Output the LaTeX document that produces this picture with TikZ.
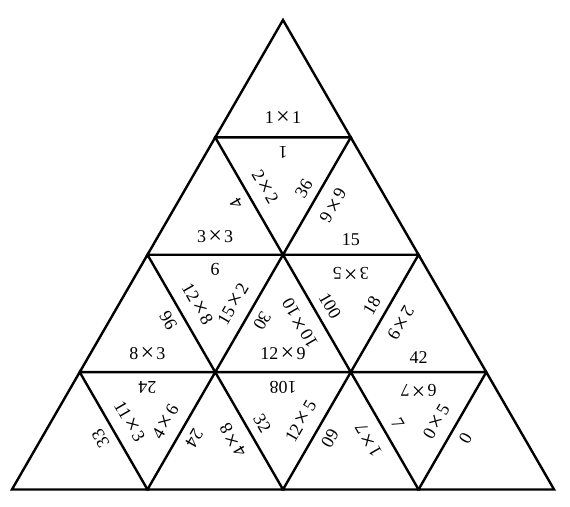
\documentclass[tikz,border=0pt]{standalone}
\usepackage{fontspec}
\setmainfont{Liberation Serif}
\usetikzlibrary{calc}
\newcommand\tms{\kern0.12em\raisebox{-0.07em}{\scalebox{1.35}{×}}\kern0.12em}
\newcommand\lbl[6]{\node[lab,rotate=#3] (#6) at ($(#1)!0.5!(#2)+({#3+90}:#4)$) {#5};}
\begin{document}
\begin{tikzpicture}[x=1pt,y=1pt,
  grid/.style={line width=2.4pt,line join=miter},
  lab/.style={font=\fontsize{18}{20}\selectfont,inner sep=0pt}]
\useasboundingbox (0,0) rectangle (570,506);
\foreach \k in {0,...,4}{
  \foreach \j in {0,...,\k}{
    \coordinate (v\k\j) at ({283-\k*67.765+\j*135.53},{486-\k*117.375});
  }
}
\foreach \k in {0,...,3}{
  \foreach \j in {0,...,\k}{
    \pgfmathtruncatemacro\kk{\k+1}
    \pgfmathtruncatemacro\jj{\j+1}
    \draw[grid] (v\k\j) -- (v\kk\j) -- (v\kk\jj) -- cycle;
  }
}
% row 1
\lbl{v10}{v11}{0}{19}{1\tms1}{a1}
% row 2
\lbl{v10}{v21}{120}{15}{4}{b1}
\lbl{v20}{v21}{0}{18}{3\tms3}{b2}
\lbl{v10}{v11}{180}{15}{1}{b3}
\lbl{v10}{v21}{300}{18}{2\tms2}{b4}
\lbl{v11}{v21}{60}{15}{36}{b5}
\lbl{v11}{v21}{240}{18}{6\tms6}{b6}
\lbl{v21}{v22}{0}{15}{15}{b7}
% row 3
\lbl{v20}{v31}{120}{15}{96}{c1}
\lbl{v30}{v31}{0}{18}{8\tms3}{c2}
\lbl{v20}{v21}{180}{15}{9}{c3}
\lbl{v20}{v31}{300}{18}{12\tms8}{c4}
\lbl{v21}{v31}{60}{18}{15\tms2}{c5}
\lbl{v21}{v31}{240}{15}{30}{c6}
\lbl{v21}{v32}{120}{19}{10\tms10}{c7}
\lbl{v31}{v32}{0}{18}{12\tms9}{c8}
\lbl{v21}{v22}{180}{18}{3\tms5}{c9}
\lbl{v21}{v32}{300}{15}{100}{c10}
\lbl{v22}{v32}{60}{15}{18}{c11}
\lbl{v22}{v32}{240}{18}{2\tms9}{c12}
\lbl{v32}{v33}{0}{15}{42}{c13}
% row 4
\lbl{v30}{v41}{120}{15}{33}{d1}
\lbl{v30}{v31}{180}{15}{24}{d2}
\lbl{v30}{v41}{300}{18}{11\tms3}{d3}
\lbl{v31}{v41}{60}{18}{4\tms6}{d4}
\lbl{v31}{v41}{240}{15}{24}{d5}
\lbl{v31}{v42}{120}{18}{4\tms8}{d6}
\lbl{v31}{v32}{180}{15}{108}{d7}
\lbl{v31}{v42}{300}{15}{32}{d8}
\lbl{v32}{v42}{60}{18}{12\tms5}{d9}
\lbl{v32}{v42}{240}{15}{60}{d10}
\lbl{v32}{v43}{120}{18}{1\tms7}{d11}
\lbl{v32}{v33}{180}{18}{6\tms7}{d12}
\lbl{v32}{v43}{300}{15}{7}{d13}
\lbl{v33}{v43}{60}{18}{0\tms5}{d14}
\lbl{v33}{v43}{240}{15}{0}{d15}
\end{tikzpicture}
\end{document}
